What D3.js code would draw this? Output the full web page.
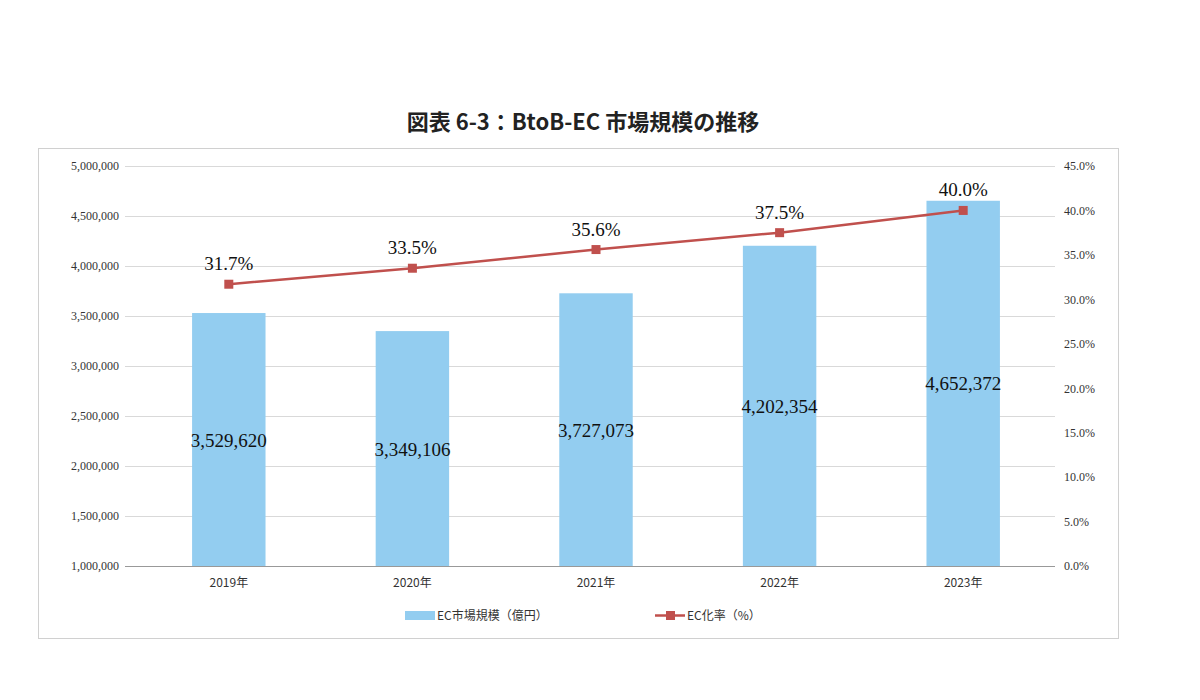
<!DOCTYPE html>
<html><head><meta charset="utf-8">
<script src="https://cdn.jsdelivr.net/npm/d3@7"></script>
<style>body{margin:0;background:#fff;}</style>
</head><body>
<svg id="chart" width="1200" height="700"></svg>
<script>
// data
const years = ["2019年", "2020年", "2021年", "2022年", "2023年"];
const marketSize = [3529620, 3349106, 3727073, 4202354, 4652372];
const ecRate = [31.7, 33.5, 35.6, 37.5, 40.0];
const leftTicks = [1000000, 1500000, 2000000, 2500000, 3000000, 3500000, 4000000, 4500000, 5000000];
const rightTicks = [0, 5, 10, 15, 20, 25, 30, 35, 40, 45];

const barBlue = "#93CDF0";
const lineRed = "#C0504D";
const serif = "'Liberation Serif','DejaVu Serif','Noto Sans CJK JP',serif";
const cjk = "'Noto Sans CJK JP',sans-serif";

const svg = d3.select("#chart");

// outer frame
svg.append("rect").attr("x", 38.5).attr("y", 148.5).attr("width", 1080).attr("height", 490)
    .attr("fill", "none").attr("stroke", "#d0d0d0");

// title
svg.append("text").attr("x", 583).attr("y", 130).attr("text-anchor", "middle")
    .attr("font-family", cjk).attr("font-weight", "bold").attr("font-size", 22).attr("fill", "#222")
    .text("図表 6-3：BtoB-EC 市場規模の推移");

const x = d3.scaleBand().domain(years).range([137, 1055]).paddingInner(0.6).paddingOuter(0.3);
const y = d3.scaleLinear().domain([1000000, 5000000]).range([566, 166]);
const y2 = d3.scaleLinear().domain([0, 45]).range([566, 166]);

// gridlines
svg.append("g").selectAll("line").data(leftTicks).join("line")
    .attr("x1", 125).attr("x2", 1055)
    .attr("y1", d => Math.round(y(d)) + 0.5).attr("y2", d => Math.round(y(d)) + 0.5)
    .attr("stroke", d => d === 1000000 ? "#999" : "#d9d9d9");

// left axis
const gl = svg.append("g").attr("transform", "translate(125,0)")
    .call(d3.axisLeft(y).tickValues(leftTicks).tickFormat(d3.format(",")).tickSize(0).tickPadding(6));
gl.select(".domain").remove();
gl.selectAll("text").attr("font-family", serif).attr("font-size", 12).attr("fill", "#333");

// right axis
const gr = svg.append("g").attr("transform", "translate(1058,0)")
    .call(d3.axisRight(y2).tickValues(rightTicks).tickFormat(d => d.toFixed(1) + "%").tickSize(0).tickPadding(6));
gr.select(".domain").remove();
gr.selectAll("text").attr("font-family", serif).attr("font-size", 12).attr("fill", "#333");

// bottom axis labels
const gb = svg.append("g").attr("transform", "translate(0,566)")
    .call(d3.axisBottom(x).tickSize(0).tickPadding(12));
gb.select(".domain").remove();
gb.selectAll("text").attr("font-family", cjk).attr("font-size", 12).attr("fill", "#333");

// bars
svg.append("g").selectAll("rect").data(marketSize).join("rect")
    .attr("x", (d, i) => x(years[i])).attr("width", x.bandwidth())
    .attr("y", d => y(d)).attr("height", d => y(1000000) - y(d))
    .attr("fill", barBlue);

svg.append("g").selectAll("text").data(marketSize).join("text")
    .attr("x", (d, i) => x(years[i]) + x.bandwidth() / 2)
    .attr("y", d => (y(d) + y(1000000)) / 2 + 7)
    .attr("text-anchor", "middle").attr("font-family", serif).attr("font-size", 19).attr("fill", "#111")
    .text(d => d3.format(",")(d));

// line
const cx = (d, i) => x(years[i]) + x.bandwidth() / 2;
svg.append("path").datum(ecRate)
    .attr("d", d3.line().x(cx).y(d => y2(d)))
    .attr("fill", "none").attr("stroke", lineRed).attr("stroke-width", 2.5);
svg.append("g").selectAll("rect").data(ecRate).join("rect")
    .attr("x", (d, i) => cx(d, i) - 4.5).attr("y", d => y2(d) - 4.5)
    .attr("width", 9).attr("height", 9).attr("fill", lineRed);
svg.append("g").selectAll("text").data(ecRate).join("text")
    .attr("x", cx).attr("y", d => y2(d) - 14)
    .attr("text-anchor", "middle").attr("font-family", serif).attr("font-size", 19).attr("fill", "#111")
    .text(d => d.toFixed(1) + "%");

// legend
const lg = svg.append("g").attr("font-family", cjk).attr("font-size", 12).attr("fill", "#333");
lg.append("rect").attr("x", 405).attr("y", 611).attr("width", 30).attr("height", 9).attr("fill", barBlue);
lg.append("text").attr("x", 437).attr("y", 620).text("EC市場規模（億円）");
lg.append("line").attr("x1", 655).attr("x2", 685).attr("y1", 615.5).attr("y2", 615.5)
    .attr("stroke", lineRed).attr("stroke-width", 2.5);
lg.append("rect").attr("x", 666).attr("y", 611).attr("width", 9).attr("height", 9).attr("fill", lineRed);
lg.append("text").attr("x", 687).attr("y", 620).text("EC化率（%）");
</script>
</body></html>
